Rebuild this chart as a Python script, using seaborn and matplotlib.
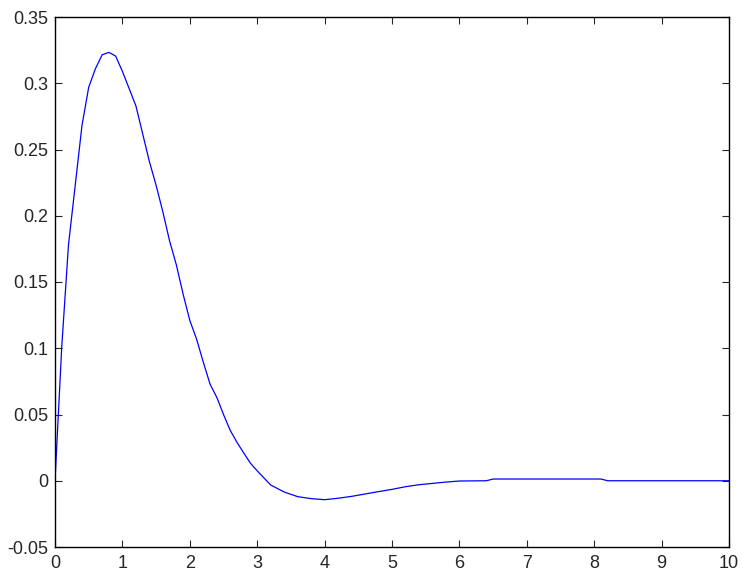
import numpy as np
import pandas as pd
import seaborn as sns
import matplotlib
matplotlib.use("Agg")
import matplotlib.pyplot as plt

# Values
time = [0, 0.1, 0.2, 0.3, 0.4, 0.5, 0.6, 0.7, 0.8, 0.9,
        1.0, 1.1, 1.2, 1.3, 1.4, 1.5, 1.6, 1.7, 1.8, 1.9,
        2.0, 2.1, 2.2, 2.3, 2.4, 2.5, 2.6, 2.7, 2.8, 2.9,
        3.0, 3.2, 3.4, 3.6, 3.8, 4.0, 4.2, 4.4, 4.6, 4.8,
        5.0, 5.2, 5.4, 5.6, 5.8, 6.0, 6.4, 6.5, 8.1, 8.2, 10.0]
response = [0.0, 0.101, 0.178, 0.223, 0.268, 0.297, 0.311, 0.3215, 0.3233, 0.3205,
            0.309, 0.296, 0.283, 0.262, 0.241, 0.223, 0.203, 0.181, 0.163, 0.141,
            0.121, 0.107, 0.0895, 0.073, 0.063, 0.050, 0.038, 0.029, 0.021, 0.0132,
            0.0075, -0.0032, -0.0085, -0.012, -0.0135, -0.0143, -0.0132, -0.0118, -0.0100, -0.0082,
            -0.0065, -0.0045, -0.0030, -0.0020, -0.0010, -0.0002, 0.0, 0.0013, 0.0013, 0.0, 0.0]

x_ticks = [0, 1, 2, 3, 4, 5, 6, 7, 8, 9, 10]
y_ticks = [-0.05, 0, 0.05, 0.1, 0.15, 0.2, 0.25, 0.3, 0.35]
y_labels = ["-0.05", "0", "0.05", "0.1", "0.15", "0.2", "0.25", "0.3", "0.35"]

df = pd.DataFrame({"t": time, "y": response})

sns.set_style("ticks")
plt.rcParams["font.family"] = ["Liberation Sans", "DejaVu Sans"]
plt.rcParams.update({
    "xtick.direction": "in", "ytick.direction": "in",
    "xtick.top": True, "ytick.right": True,
    "xtick.major.size": 5, "ytick.major.size": 5,
    "xtick.major.width": 0.8, "ytick.major.width": 0.8,
    "axes.linewidth": 1.0, "axes.edgecolor": "black",
})

fig = plt.figure(figsize=(7.52, 5.86), dpi=100)
# axes box: left 55px, right 729px, top 17px, bottom 547px
ax = fig.add_axes([55 / 752, 39 / 586, 674 / 752, 530 / 586])

sns.lineplot(data=df, x="t", y="y", ax=ax, color="#0000ff", linewidth=0.9,
             sort=False, estimator=None)

ax.set_xlim(0, 10)
ax.set_ylim(-0.05, 0.35)
ax.set_xticks(x_ticks)
ax.set_xticklabels([str(v) for v in x_ticks], fontsize=13)
ax.set_yticks(y_ticks)
ax.set_yticklabels(y_labels, fontsize=13)
ax.tick_params(axis="x", pad=6)
ax.tick_params(axis="y", pad=5)
ax.set_xlabel("")
ax.set_ylabel("")
for s in ax.spines.values():
    s.set_visible(True)
    s.set_color("black")

fig.savefig("out.png", dpi=100, facecolor="white")
plt.close(fig)
